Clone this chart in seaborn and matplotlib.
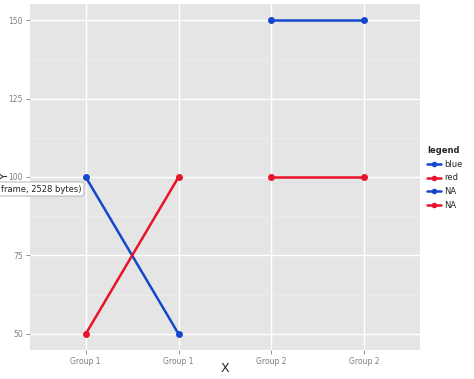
import matplotlib
matplotlib.use("Agg")
import matplotlib.pyplot as plt
import seaborn as sns
import pandas as pd
from matplotlib.lines import Line2D

# data
tick_labels = ["Group 1", "Group 1", "Group 2", "Group 2"]
series_names = ["blue", "red", "NA ", "NA  "]
legend_labels = ["blue", "red", "NA", "NA"]
blue_x = [0, 1]
blue_y = [100, 50]
red_x = [0, 1]
red_y = [50, 100]
na1_x = [2, 3]
na1_y = [150, 150]
na2_x = [2, 3]
na2_y = [100, 100]
colors = ["#1447cc", "#e8132b", "#1447cc", "#e8132b"]

rows = []
for name, xs, ys in zip(series_names, [blue_x, red_x, na1_x, na2_x], [blue_y, red_y, na1_y, na2_y]):
    for x, y in zip(xs, ys):
        rows.append({"pos": x, "val": y, "series": name})
df = pd.DataFrame(rows)

sns.set_theme(style="darkgrid")
fig = plt.figure(figsize=(4.74, 3.79), dpi=100)
ax = fig.add_axes([30/474, 1 - 350/379, 390/474, 346/379])
ax.set_facecolor("#e5e5e5")

sns.lineplot(data=df, x="pos", y="val", hue="series", palette=dict(zip(series_names, colors)),
             marker="o", markersize=5, markeredgewidth=0, linewidth=1.8, ax=ax, legend=False,
             sort=False, estimator=None, units="series")

ax.set_xlim(-0.6, 3.6)
ax.set_ylim(44.9, 155.1)
ax.set_xticks(range(len(tick_labels)))
ax.set_xticklabels(tick_labels)
ax.set_yticks([50, 75, 100, 125, 150])
ax.set_yticks([62.5, 87.5, 112.5, 137.5], minor=True)
ax.grid(True, which="major", color="white", linewidth=1.0)
ax.grid(True, which="minor", color="#eeeeee", linewidth=0.5)
for s in ax.spines.values():
    s.set_visible(False)
ax.tick_params(axis="both", which="major", labelsize=5.5, labelcolor="#7f7f7f", color="#7f7f7f",
               length=3, width=0.6, pad=2, left=True, bottom=True)
ax.tick_params(axis="both", which="minor", length=0)
ax.set_xlabel("X", fontsize=9)
ax.set_ylabel("Y", fontsize=8)
ax.xaxis.set_label_coords(0.5, -(362 - 350) / 346)
ax.yaxis.set_label_coords((10 - 30) / 390, 0.505)

handles = [Line2D([0], [0], color=c, marker="o", markersize=4, markeredgewidth=0, linewidth=1.8)
           for c in colors]
leg = fig.legend(handles, legend_labels, title="legend", loc="upper left",
                 bbox_to_anchor=(424/474, 1 - 143/379), frameon=False, fontsize=6,
                 title_fontsize=6, handlelength=1.6, labelspacing=0.55, borderaxespad=0,
                 handletextpad=0.4)
leg.get_title().set_fontweight("bold")
leg._legend_box.align = "left"

fig.text(1/474, 1 - 189/379, "frame, 2528 bytes)", fontsize=6, va="center", ha="left",
         bbox=dict(boxstyle="round,pad=0.3", facecolor="white", edgecolor="#aaaaaa", linewidth=0.6))

fig.savefig("out.png", dpi=100, facecolor="white")
